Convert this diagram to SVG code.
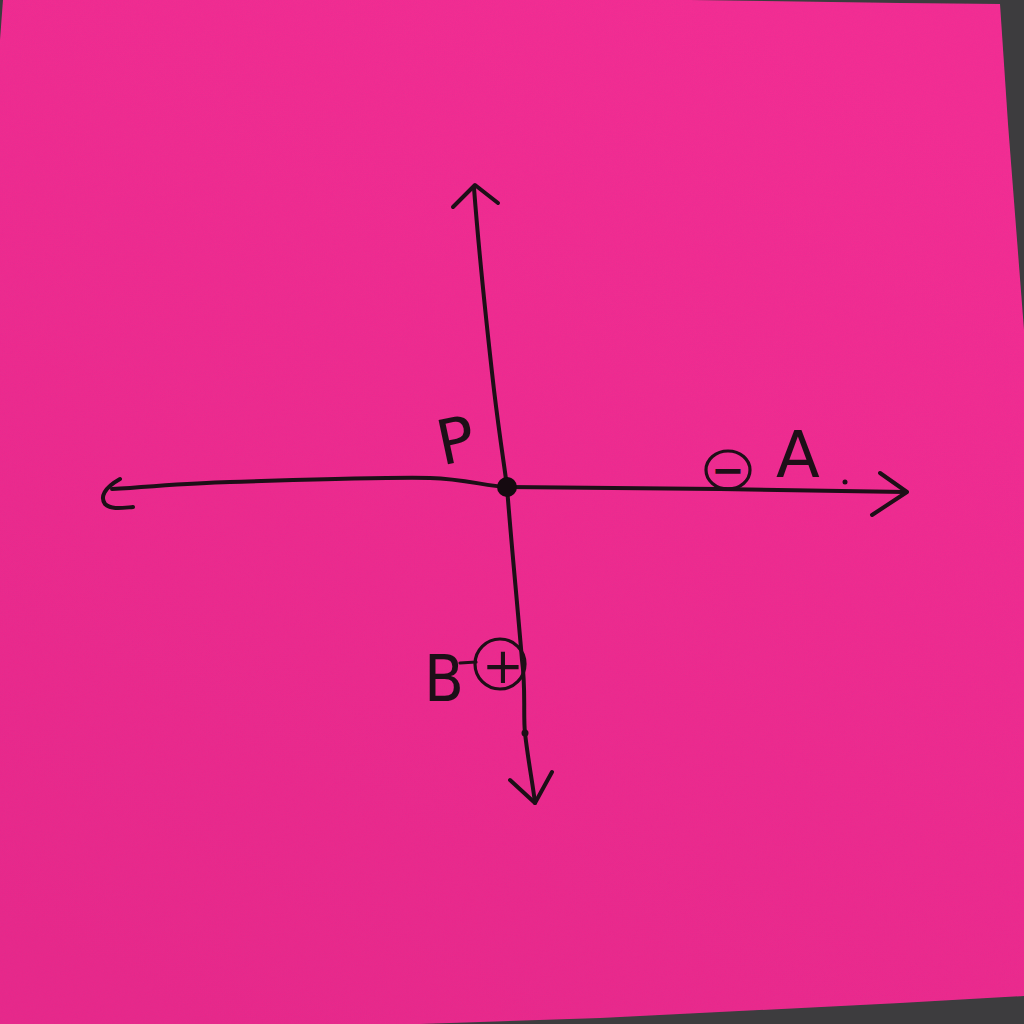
<svg xmlns="http://www.w3.org/2000/svg" width="1024" height="1024" viewBox="0 0 1024 1024">
  <defs>
    <linearGradient id="paper" x1="0.7" y1="0" x2="0.2" y2="1">
      <stop offset="0" stop-color="#f52c93"/>
      <stop offset="1" stop-color="#e9278a"/>
    </linearGradient>
    <filter id="grain" x="0" y="0" width="100%" height="100%">
      <feTurbulence type="fractalNoise" baseFrequency="0.9" numOctaves="2" seed="3" result="n"/>
      <feColorMatrix in="n" type="matrix" values="0 0 0 0 0.5  0 0 0 0 0.05  0 0 0 0 0.3  0 0 0 0.35 -0.05"/>
      <feComposite in2="SourceGraphic" operator="in"/>
    </filter>
    <style>
      .ink { fill: none; stroke: #1d0f17; stroke-width: 4; stroke-linecap: round; stroke-linejoin: round; }
      .thin { fill: none; stroke: #1d0f17; stroke-width: 3.2; stroke-linecap: round; stroke-linejoin: round; }
      .lbl { font-family: "DejaVu Sans", "Liberation Sans", sans-serif; fill: #1d0f17; }
    </style>
  </defs>

  <!-- backdrop -->
  <rect x="0" y="0" width="1024" height="1024" fill="#3d3c3e"/>
  <!-- sticky note -->
  <path id="note" d="M3,0 L690,0 L900,3 L1000,4 L1008,124 L1024,330 L1024,996 L900,1003 L600,1018 L420,1024 L0,1024 L0,40 Z" fill="url(#paper)"/>
  <path d="M3,0 L690,0 L900,3 L1000,4 L1008,124 L1024,330 L1024,996 L900,1003 L600,1018 L420,1024 L0,1024 L0,40 Z" fill="#fff" filter="url(#grain)" opacity="0.6"/>

  <g id="connectors">
    <!-- horizontal axis -->
    <path class="ink" d="M112,489 C160,486 190,483 230,482 C300,480 380,477 430,478 C465,479 485,486 507,487 C580,488 650,488 720,489 C800,490 860,491 905,492"/>
    <path class="ink" d="M120,479 C104,488 100,497 105,504 C111,510 122,508 133,507"/>
    <path class="ink" d="M880,473 L907,492 L872,515"/>
    <!-- vertical axis -->
    <path class="ink" d="M474,188 C478,240 486,320 494,390 C500,440 505,470 507,487 C511,540 517,600 522,660 C526,690 523,715 525,733 C528,760 533,785 535,803"/>
    <path class="ink" d="M453,207 L475,185 L498,203"/>
    <path class="ink" d="M510,780 L535,803 L552,772"/>
    <circle cx="525" cy="733" r="3.5" fill="#1d0f17"/>
  </g>

  <g id="origin">
    <circle cx="507" cy="487" r="10" fill="#150a10"/>
  </g>

  <g id="label-P">
    <text class="lbl" x="436" y="462" font-size="62" transform="rotate(-12 456 435)">P</text>
  </g>

  <g id="label-A">
    <text class="lbl" x="776" y="477" font-size="64">A</text>
    <circle cx="845" cy="482" r="2.5" fill="#1d0f17"/>
  </g>

  <g id="minus-charge">
    <ellipse class="thin" cx="728" cy="470" rx="22" ry="19"/>
    <text class="lbl" x="728" y="484" font-size="40" font-weight="bold" text-anchor="middle">−</text>
  </g>

  <g id="label-B">
    <text class="lbl" x="424" y="701" font-size="64" textLength="40" lengthAdjust="spacingAndGlyphs">B</text>
    <path class="thin" d="M460,663 L476,662"/>
  </g>

  <g id="plus-charge">
    <circle class="thin" cx="500" cy="664" r="25"/>
    <text class="lbl" x="503" y="683" font-size="50" text-anchor="middle">+</text>
  </g>
</svg>
